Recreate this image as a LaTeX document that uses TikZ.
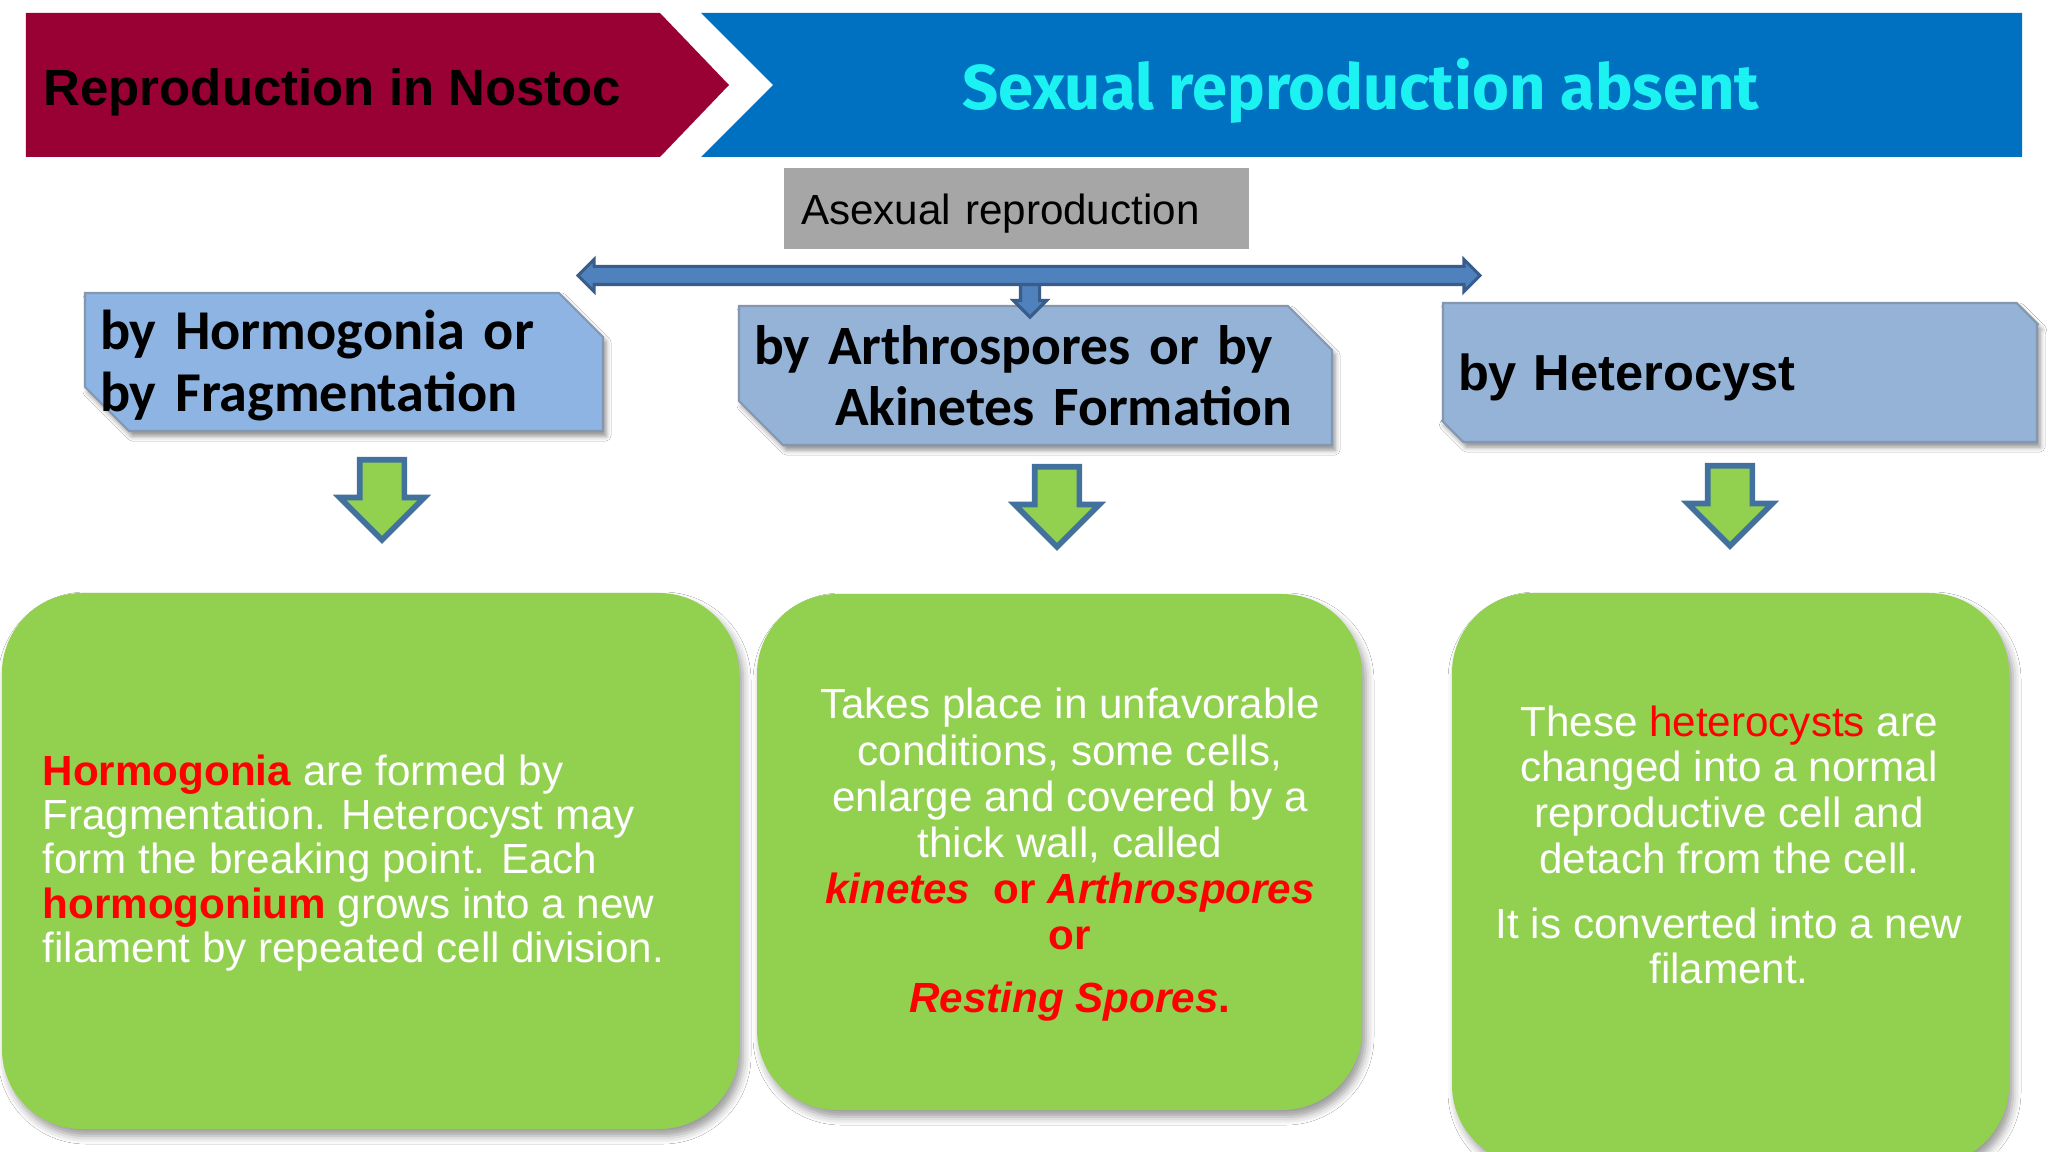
\documentclass[tikz,border=0pt]{standalone}
\usepackage{fontspec}
\setmainfont{Liberation Sans}
\newfontfamily\boxfont{Carlito}
\newfontfamily\headfont{Fira Sans}
\usetikzlibrary{shapes.misc,shapes.arrows,shadows.blur}
\definecolor{NostocRed}{HTML}{990033}
\definecolor{NostocBlue}{HTML}{0070C0}
\definecolor{HeadCyan}{HTML}{1CF2F2}
\definecolor{AsexGray}{HTML}{A6A6A6}
\definecolor{BarBlue}{HTML}{4F81BD}
\definecolor{BarEdge}{HTML}{385D8A}
\definecolor{ModeBlue}{HTML}{95B3D7}
\definecolor{ModeBlueA}{HTML}{8EB4E3}
\definecolor{ModeEdge}{HTML}{8497B0}
\definecolor{LeafGreen}{HTML}{92D050}
\definecolor{ArrowEdge}{HTML}{41719C}
\definecolor{KeyRed}{HTML}{FF0000}
\newcommand{\key}[1]{\textcolor{KeyRed}{\textbf{#1}}}
\newcommand{\keyit}[1]{\textcolor{KeyRed}{\textbf{\textit{#1}}}}
\tikzset{
  graybox/.style={fill=AsexGray, minimum width=4.65cm, minimum height=0.81cm,
                  text width=4.31cm, inner xsep=0.17cm, align=left, text depth=0pt,
                  font=\fontsize{12}{14}\selectfont},
  bar/.style={double arrow, fill=BarBlue, draw=BarEdge, line width=0.9pt,
              minimum height=9.02cm, minimum width=0.29cm, inner xsep=0pt,
              inner ysep=0.075cm, double arrow head extend=0.07cm},
  dropstyle/.style={single arrow, rotate=-90, anchor=tail, fill=BarBlue, draw=BarEdge,
              line width=0.9pt, minimum height=0.40cm, minimum width=0.30cm,
              inner xsep=0pt, inner ysep=0.08cm, single arrow head extend=0.07cm},
  mode/.style={chamfered rectangle, chamfered rectangle corners={north east,south west},
               chamfered rectangle sep=0.22cm, draw=ModeEdge, line width=0.6pt,
               fill=ModeBlue, inner xsep=-0.07cm, inner ysep=-0.2cm, align=left,
               font=\boxfont\bfseries\fontsize{16}{17.5}\selectfont,
               blur shadow={shadow xshift=0.03cm, shadow yshift=-0.05cm,
                            shadow blur radius=0.05cm, shadow opacity=45}},
  godown/.style={single arrow, rotate=-90, anchor=tail, fill=LeafGreen, draw=ArrowEdge,
                 line width=1.6pt, minimum height=0.80cm, minimum width=0.80cm,
                 inner xsep=0pt, inner ysep=0.195cm, single arrow head extend=0.20cm},
  leaf/.style={rounded corners=0.8cm, fill=LeafGreen,
               blur shadow={shadow xshift=0.04cm, shadow yshift=-0.07cm,
                            shadow blur radius=0.08cm, shadow opacity=40}},
  leaftext/.style={text=white, font=\fontsize{12}{12.6}\selectfont, inner sep=0pt},
}
\begin{document}
\begin{tikzpicture}[x=1cm,y=-1cm]
  \clip (0,0) rectangle (20.48,11.52);
  \fill[white] (0,0) rectangle (20.48,11.52);
  % banner
  \fill[NostocRed] (0.26,0.13) -- (6.60,0.13) -- (7.29,0.85) -- (6.60,1.57) -- (0.26,1.57) -- cycle;
  \fill[NostocBlue] (7.01,0.13) -- (20.22,0.13) -- (20.22,1.57) -- (7.01,1.57) -- (7.73,0.85) -- cycle;
  \node[anchor=base west, inner sep=0pt, font=\bfseries\fontsize{14.5}{17}\selectfont] (title) at (0.43,1.06) {Reproduction in Nostoc};
  \node[anchor=base, inner sep=0pt, text=HeadCyan, font=\headfont\bfseries\fontsize{18}{22}\selectfont] (sexual) at (13.61,1.10) {Sexual reproduction absent};

  % asexual branch
  \node[graybox] (asex) at (10.165,2.09) {Asexual reproduction};

  \node[mode, fill=ModeBlueA, minimum width=5.18cm, minimum height=1.38cm, text width=4.88cm, text depth=18.2pt] (horm) at (3.44,3.62) {by Hormogonia or\\by Fragmentation};
  \node[mode, minimum width=5.93cm, minimum height=1.39cm, text width=5.63cm, font=\boxfont\bfseries\fontsize{15.8}{17.5}\selectfont] (arthro) at (10.355,3.755) {by Arthrospores or by\\\hspace*{0.81cm}Akinetes Formation};
  \node[mode, minimum width=5.94cm, minimum height=1.39cm, text width=5.64cm, text depth=0pt, font=\bfseries\fontsize{14.4}{17}\selectfont] (hetero) at (17.40,3.725) {by Heterocyst};

  \node[dropstyle] (drop) at (10.30,2.755) {};
  \node[bar] (bar) at (10.29,2.755) {};

  \node[godown] (down1) at (3.82,4.57) {};
  \node[godown] (down2) at (10.57,4.64) {};
  \node[godown] (down3) at (17.30,4.63) {};

  % result boxes
  \node[leaf, minimum width=7.37cm, minimum height=5.36cm] (hormbox) at (3.705,8.61) {};
  \node[leaf, minimum width=6.05cm, minimum height=5.16cm] (arthrobox) at (10.595,8.52) {};
  \node[leaf, minimum width=5.57cm, minimum height=5.72cm] (heterobox) at (17.305,8.79) {};

  \node[leaftext, align=left, anchor=west] (hormtext) at (0.42,8.63)
    {\key{Hormogonia} are formed by\\
     Fragmentation. Heterocyst may\\
     form the breaking point. Each\\
     \key{hormogonium} grows into a new\\
     filament by repeated cell division.};
  \node[leaftext, align=center, font=\fontsize{12}{13.1}\selectfont] (arthrotext) at (10.70,8.55)
    {Takes place in unfavorable\\
     conditions, some cells,\\
     enlarge and covered by a\\
     thick wall, called\\
     \keyit{kinetes}\key{\ \ or }\keyit{Arthrospores}\\
     \key{or}\\[5pt]
     \keyit{Resting Spores}\key{.}};
  \node[leaftext, align=center, font=\fontsize{12}{13}\selectfont] (heterotext) at (17.29,8.45)
    {These \textcolor{KeyRed}{heterocysts} are\\
     changed into a normal\\
     reproductive cell and\\
     detach from the cell.\\[5.5pt]
     It is converted into a new\\
     filament.};
\end{tikzpicture}
\end{document}
